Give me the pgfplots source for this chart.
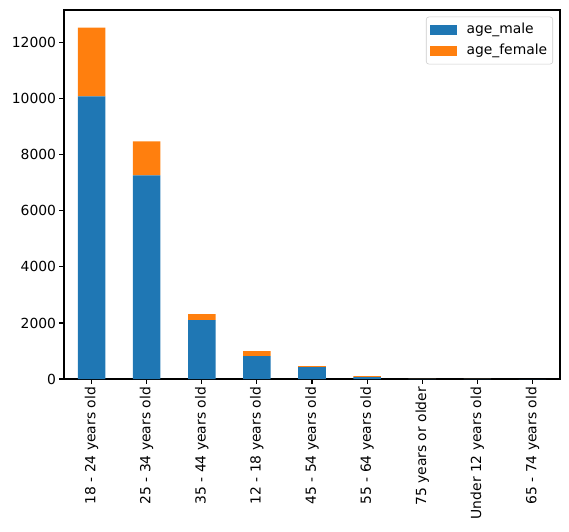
\documentclass[border=0pt]{standalone}
\usepackage{pgfplots}
\pgfplotsset{compat=1.18}
\usetikzlibrary{calc}
\usepackage{fontspec}
\setmainfont{DejaVu Sans}
\definecolor{mplblue}{HTML}{1F77B4}
\definecolor{mplorange}{HTML}{FF7F0E}
\begin{document}
\begin{tikzpicture}
\begin{axis}[
  scale only axis,
  width=357.1pt, height=265.7pt,
  ybar stacked, bar width=0.5,
  xmin=-0.5, xmax=8.5,
  ymin=0, ymax=13160,
  xtick=data,
  xticklabels={18 - 24 years old,25 - 34 years old,35 - 44 years old,12 - 18 years old,45 - 54 years old,55 - 64 years old,75 years or older,Under 12 years old,65 - 74 years old},
  xticklabel style={rotate=90, anchor=east, font=\fontsize{10}{12}\selectfont, inner sep=2pt},
  yticklabel style={font=\fontsize{10}{12}\selectfont, inner sep=2pt},
  ytick={0,2000,4000,6000,8000,10000,12000},
  scaled y ticks=false,
  /pgf/number format/1000 sep={},
  /pgf/number format/assume math mode=true,
  tick align=outside,
  major tick length=3.5pt,
  xtick pos=left, ytick pos=left,
  axis line style={line width=0.8pt},
  every tick/.style={line width=0.8pt, black},
  legend style={at={(rel axis cs:0.986,0.982)}, anchor=north east,
    font=\fontsize{10}{12}\selectfont, draw=black!20, rounded corners=2pt,
    inner sep=2.5pt, row sep=1pt, column sep=5pt,
    nodes={inner xsep=1.5pt, inner ysep=2pt, text height=7.5pt, text depth=2.5pt}},
  legend cell align=left,
  legend image code/.code={\fill[#1, sharp corners] (0pt,-3.5pt) rectangle (20pt,3.5pt);},
]
\addplot[fill=mplblue, draw=none] coordinates {(0,10080) (1,7265) (2,2100) (3,820) (4,428) (5,72) (6,4) (7,2) (8,1)};
\addplot[fill=mplorange, draw=none] coordinates {(0,2455) (1,1210) (2,215) (3,177) (4,36) (5,36) (6,1) (7,1) (8,0)};
\legend{age\_male,age\_female}
\coordinate (bl) at (rel axis cs:0,0);
\coordinate (tr) at (rel axis cs:1,1);
\end{axis}
\pgfresetboundingbox
\path ($(bl)+(-46.08pt,-109.44pt)$) rectangle ($(tr)+(6.48pt,7.2pt)$);
\end{tikzpicture}
\end{document}
